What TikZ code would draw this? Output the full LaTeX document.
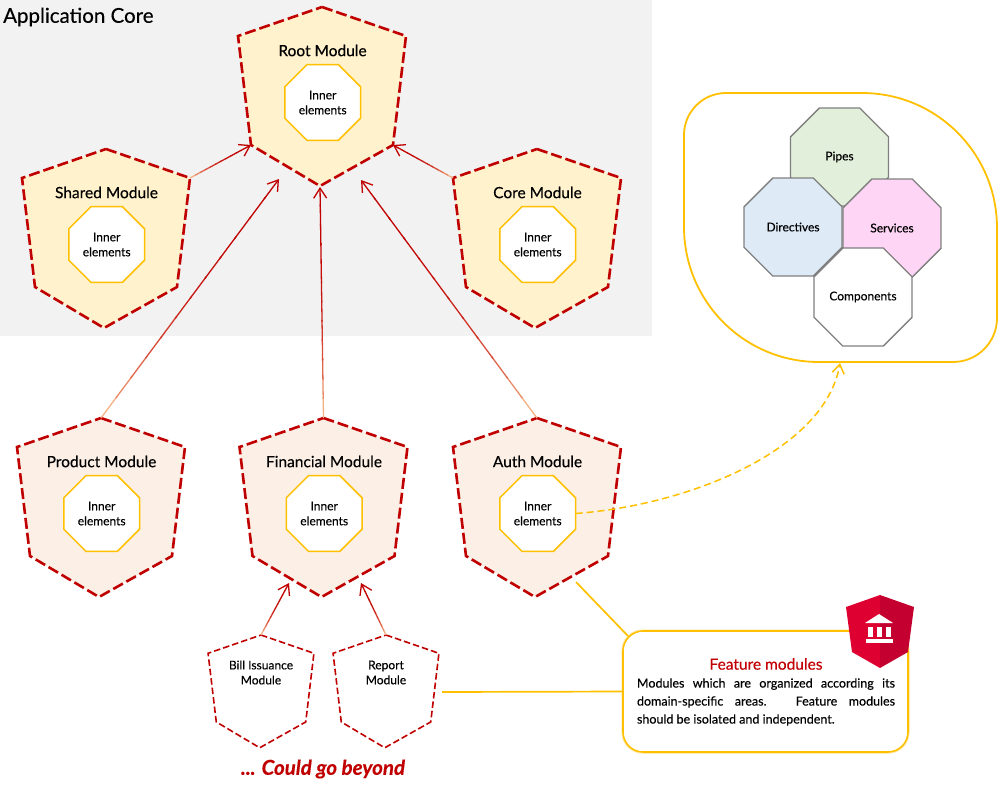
\documentclass[tikz,border=0pt]{standalone}
\usepackage{fontspec}
\setmainfont[FakeBold=0.3]{Lato}
\usetikzlibrary{arrows.meta,calc,shapes.geometric}
\definecolor{coregrey}{HTML}{F2F2F2}
\definecolor{modred}{HTML}{C00000}
\definecolor{coreyellow}{HTML}{FFF2CC}
\definecolor{featpeach}{HTML}{FBEFE6}
\definecolor{gold}{HTML}{FFC000}
\definecolor{linkstart}{HTML}{F4B183}
\definecolor{octgrey}{HTML}{7F7F7F}
\definecolor{ngred}{HTML}{DD0031}
\definecolor{ngdark}{HTML}{C3002F}
\tikzset{
	x=1pt, y=-1pt,
	bigmod/.style={draw=modred, line width=2.6pt, dash pattern=on 11pt off 4pt},
	smallmod/.style={draw=modred, line width=1.6pt, dash pattern=on 6.5pt off 3pt},
	modlabel/.style={font=\fontsize{15.5}{17}\selectfont, text=black},
	inneroct/.style={draw=gold, line width=1.5pt, fill=white, regular polygon, regular polygon sides=8, minimum size=82pt, inner sep=0pt, outer sep=0pt, align=center, font=\fontsize{12}{15}\selectfont, text=black},
	partoct/.style={draw=octgrey, line width=1.4pt, regular polygon, regular polygon sides=8, minimum size=106pt, inner sep=0pt, outer sep=0pt, font=\fontsize{12}{13}\selectfont, text=black},
	smalllabel/.style={align=center, font=\fontsize{12}{15}\selectfont, text=black},
	goldlink/.style={draw=gold, line width=1.7pt}
}
% shield outline, its corners get names
\newcommand{\shieldmod}[6]{
	\begin{scope}[shift={(#2,#3)}, scale=#4]
		\draw[#5, fill=#6] (0,0) coordinate (#1-t) -- (84,29) coordinate (#1-r) -- (71,138) coordinate (#1-lr) -- (-2,179) coordinate (#1-b) -- (-71,138) coordinate (#1-ll) -- (-84,29) coordinate (#1-l) -- cycle;
	\end{scope}
}
% fading arrow, from (#1) to (#2)
\newcommand{\deplink}[2]{
	\foreach \i [evaluate=\i as \p using {int(100*(1-(1-\i/12)^3))}, evaluate=\i as \s using \i/12, evaluate=\i as \e using (\i+1.1)/12] in {0,...,10}
		\draw[line width=1.3pt, modred!\p!linkstart] ($(#1)!\s!(#2)$) -- ($(#1)!\e!(#2)$);
	\draw[line width=1.3pt, modred, -{Straight Barb[length=10pt,width=13pt]}] ($(#1)!11/12!(#2)$) -- (#2);
}
\begin{document}
\begin{tikzpicture}
	\useasboundingbox (0,0) rectangle (1004,788);
	\fill[coregrey] (0,0) rectangle (652,336);
	\node[anchor=west, inner sep=0pt, font=\fontsize{20.5}{24}\selectfont, text=black] (corelabel) at (3,17) {Application Core};

	\foreach \name/\x/\y/\bgcol/\lbl in {root/322/7/coreyellow/Root Module, shared/106/149/coreyellow/Shared Module, core/537/149/coreyellow/Core Module, product/101/418/featpeach/Product Module, financial/323.5/418/featpeach/Financial Module, auth/537/418/featpeach/Auth Module} {
		\shieldmod{\name}{\x}{\y}{1}{bigmod}{\bgcol}
		\node[modlabel] (\name-label) at (\x+0.5,\y+43.5) {\lbl};
		\node[inneroct] (\name-inner) at (\x+0.7,\y+95.5) {Inner\\elements};
	}
	\shieldmod{bill}{261}{635}{0.63}{smallmod}{white}
	\shieldmod{report}{386}{635}{0.63}{smallmod}{white}
	\node[smalllabel] (billlabel) at (261,672.5) {Bill Issuance\\Module};
	\node[smalllabel] (reportlabel) at (386,672.5) {Report\\Module};
	\node[font=\fontsize{20.5}{22}\selectfont\itshape\bfseries, text=modred] (beyond) at (323,769) {... Could go beyond};

	% arrow heads stop a little off the root and the financial shield
	\coordinate (rootin1) at (279,179);
	\coordinate (rootin2) at (320,187);
	\coordinate (rootin3) at (361,180);
	\coordinate (finin1) at (289,583);
	\coordinate (finin2) at (361,583);
	\deplink{shared-r}{root-ll}
	\deplink{core-l}{root-lr}
	\deplink{product-t}{rootin1}
	\deplink{financial-t}{rootin2}
	\deplink{auth-t}{rootin3}
	\deplink{bill-t}{finin1}
	\deplink{report-t}{finin2}

	% building blocks
	\draw[gold, line width=1.8pt, line cap=round] (684,180) [rounded corners=42pt] -- (684,93) [rounded corners=135pt] -- (997,93) [rounded corners=44pt] -- (997,362) [rounded corners=135pt] -- (684,362) [sharp corners] -- (684,180);
	\node[partoct, fill={rgb,255:red,226;green,239;blue,218}] (pipes) at (839.5,157) {Pipes};
	\node[partoct, fill={rgb,255:red,255;green,213;blue,245}] (services) at (892,228) {Services};
	\node[partoct, fill={rgb,255:red,222;green,235;blue,247}] (directives) at (793,227) {Directives};
	\node[partoct, fill=white] (components) at (863,297) {Components};
	\coordinate (groupin) at (840,363);
	\draw[gold, line width=1.5pt, dash pattern=on 7pt off 4pt, -{Straight Barb[length=9pt,width=12pt]}] (auth-inner.east) .. controls (690,505) and (825,450) .. (groupin);

	% note
	\coordinate (authfoot) at (576,582);
	\coordinate (notecorner) at (628,636);
	\coordinate (reportside) at (442,692);
	\node[draw=gold!30, line width=3.5pt, rounded corners=20pt, minimum width=285pt, minimum height=121pt] (noteglow) at (765.5,691.5) {};
	\draw[goldlink] (authfoot) -- (notecorner);
	\node[draw=gold, line width=1.6pt, fill=white, rounded corners=20pt, minimum width=285pt, minimum height=121pt] (notebox) at (765.5,691.5) {};
	\node[font=\fontsize{15.5}{18}\selectfont, text=modred!90!ngred] (notetitle) at (766,664) {Feature modules};
	\node[inner sep=0pt, text width=258pt, align=justify, font=\fontsize{12.5}{18}\selectfont, text=black] (notetext) at (766,702) {Modules which are organized according its\linebreak domain-specific areas. Feature modules\linebreak should be isolated and independent.};
	\draw[goldlink] (reportside) -- (notebox.west);

	% badge
	\fill[ngred] (880,595) -- (846,607) -- (852,652) -- (880,668) -- cycle;
	\fill[ngdark] (880,595) -- (914,607) -- (908,652) -- (880,668) -- cycle;
	\fill[white] (865,623) -- (879,614) -- (893,623) -- cycle;
	\foreach \px in {868,877,886}
		\fill[white] (\px,627) rectangle (\px+4.5,637);
	\fill[white] (866,639) rectangle (893,643);
\end{tikzpicture}
\end{document}
